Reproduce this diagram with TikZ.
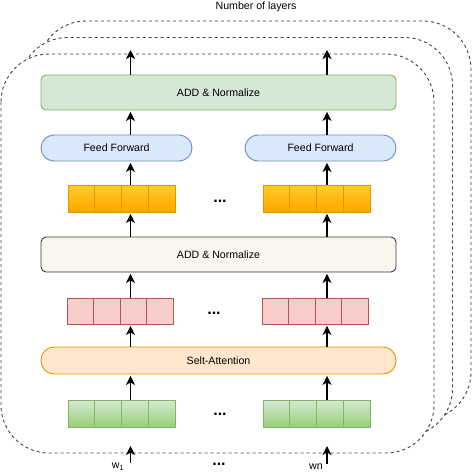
\documentclass[tikz,border=0pt]{standalone}
\usepackage{fontspec}
\setmainfont{Liberation Sans}
\usetikzlibrary{arrows.meta}

\definecolor{addtop}{HTML}{D5E8D4}
\definecolor{addtopline}{HTML}{82B366}
\definecolor{addmid}{HTML}{F9F7ED}
\definecolor{addmidline}{HTML}{36393D}
\definecolor{ffblue}{HTML}{DAE8FC}
\definecolor{ffline}{HTML}{6C8EBF}
\definecolor{orgtop}{HTML}{FFCD28}
\definecolor{orgbot}{HTML}{FFA500}
\definecolor{orgline}{HTML}{D79B00}
\definecolor{pinkfill}{HTML}{F8CECC}
\definecolor{pinkline}{HTML}{B85450}
\definecolor{attfill}{HTML}{FFE6CC}
\definecolor{grntop}{HTML}{D5E8D4}
\definecolor{grnbot}{HTML}{97D077}

\begin{document}
\begin{tikzpicture}[x=1pt, y=-1pt,
    font=\fontsize{10.6}{12}\selectfont,
    stackbox/.style={draw=black!75, dash pattern=on 3pt off 3pt, line width=0.9pt, fill=white, rounded corners=48pt},
    block/.style={draw, rounded corners=5pt, minimum width=355pt, minimum height=35pt, line width=0.9pt},
    pill/.style={draw, rounded corners=13pt, minimum height=26pt, line width=0.9pt},
    cell/.style={draw, minimum width=26.75pt, minimum height=27pt, inner sep=0pt, line width=0.9pt},
    arr/.style={-{Stealth[length=9pt, width=9pt, inset=2.5pt]}, line width=1.8pt, shorten >=1.5pt},
    ellip/.style={font=\fontsize{16}{16}\selectfont\bfseries, anchor=base, inner sep=0pt}]
    \useasboundingbox (0,0) rectangle (474,474);

    % Stacked layers (back to front)
    \draw[stackbox] (38,21) rectangle (471,420);
    \draw[stackbox] (19.5,37.5) rectangle (452.5,436.5);
    \draw[stackbox] (1,54) rectangle (434,453);
    \node (title) at (256,7) {Number of layers};

    % Arrow columns
    \coordinate (c1) at (130.5,0);
    \coordinate (c2) at (327,0);

    % Upper add & norm, feed forward
    \node[block, fill=addtop, draw=addtopline] (add2) at (218.5,92.5) {ADD \& Normalize};
    \node[pill, minimum width=151pt, fill=ffblue, draw=ffline] (ff1) at (116.5,148) {Feed Forward};
    \node[pill, minimum width=151pt, fill=ffblue, draw=ffline] (ff2) at (320.5,148) {Feed Forward};

    % Orange vectors
    \foreach \i in {1,...,4} {
        \node[cell, top color=orgtop, bottom color=orgbot, draw=orgline] (o1\i) at ({68+26.75*(\i-0.5)},198.5) {};
        \node[cell, top color=orgtop, bottom color=orgbot, draw=orgline] (o2\i) at ({263+26.75*(\i-0.5)},198.5) {};
    }
    \node[ellip] (odots) at (220,202) {...};

    % Lower add & norm
    \node[block, fill=addmid, draw=addmidline] (add1) at (218.5,254.5) {ADD \& Normalize};

    % Pink vectors
    \foreach \i in {1,...,4} {
        \node[cell, minimum width=26.5pt, minimum height=26pt, fill=pinkfill, draw=pinkline] (p1\i) at ({67+26.5*(\i-0.5)},311) {};
        \node[cell, minimum width=26.5pt, minimum height=26pt, fill=pinkfill, draw=pinkline] (p2\i) at ({262+26.5*(\i-0.5)},311) {};
    }
    \node[ellip] (pdots) at (214,314) {...};

    % Attention
    \node[pill, minimum width=355pt, minimum height=27pt, fill=attfill, draw=orgline] (att) at (218.5,360.5) {Selt-Attention};

    % Green vectors
    \foreach \i in {1,...,4} {
        \node[cell, top color=grntop, bottom color=grnbot, draw=addtopline] (g1\i) at ({68+26.75*(\i-0.5)},413.5) {};
        \node[cell, top color=grntop, bottom color=grnbot, draw=addtopline] (g2\i) at ({263+26.75*(\i-0.5)},413.5) {};
    }
    \node[ellip] (gdots) at (220,415.5) {...};

    % Inputs
    \node[anchor=base, inner sep=0pt] (w1) at (118,468.5) {w\textsubscript{1}};
    \node[anchor=base, inner sep=0pt] (wn) at (316,469.5) {wn};
    \node[ellip] (wdots) at (219,465) {...};
    \coordinate (in1) at (130.5,444.5);
    \coordinate (in2) at (327,444.5);
    \coordinate (out1) at (130.5,48.5);
    \coordinate (out2) at (327,48.5);

    % Arrows
    \draw[arr] (w1.north -| c1) -- (in1);
    \draw[arr] (wn.north -| c2) -- (in2);
    \draw[arr] (g13.north -| c1) -- (att.south -| c1);
    \draw[arr] (g23.north -| c2) -- (att.south -| c2);
    \draw[arr] (att.north -| c1) -- (p13.south -| c1);
    \draw[arr] (att.north -| c2) -- (p23.south -| c2);
    \draw[arr] (p13.north -| c1) -- (add1.south -| c1);
    \draw[arr] (p23.north -| c2) -- (add1.south -| c2);
    \draw[arr] (add1.north -| c1) -- (o13.south -| c1);
    \draw[arr] (add1.north -| c2) -- (o23.south -| c2);
    \draw[arr] (o13.north -| c1) -- (ff1.south -| c1);
    \draw[arr] (o23.north -| c2) -- (ff2.south -| c2);
    \draw[arr] (ff1.north -| c1) -- (add2.south -| c1);
    \draw[arr] (ff2.north -| c2) -- (add2.south -| c2);
    \draw[arr] (add2.north -| c1) -- (out1);
    \draw[arr] (add2.north -| c2) -- (out2);
\end{tikzpicture}
\end{document}
